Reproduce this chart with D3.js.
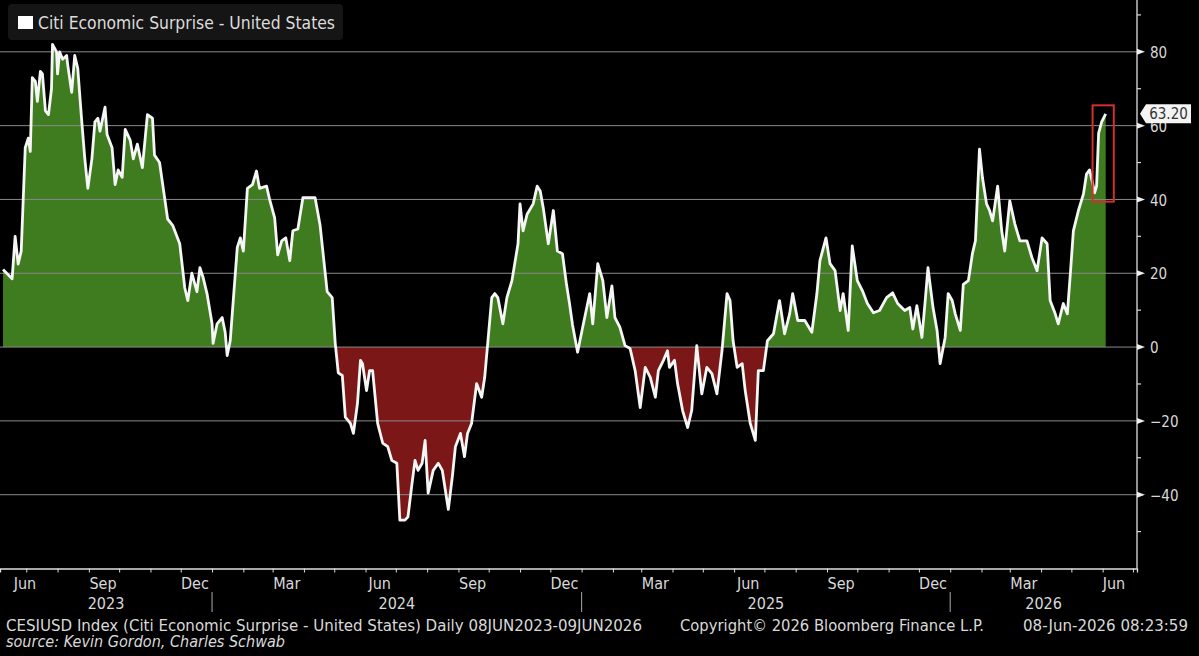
<!DOCTYPE html>
<html><head><meta charset="utf-8">
<script src="https://cdn.jsdelivr.net/npm/d3@7"></script>
<style>html,body{margin:0;padding:0;background:#000;overflow:hidden}</style>
</head><body><svg id="c" width="1199" height="656"></svg>
<script>
// ---------- data ----------
const dates2023 = ["2023-06-08","2023-06-17","2023-06-20","2023-06-23","2023-06-26","2023-06-28","2023-06-30","2023-07-03","2023-07-05","2023-07-07","2023-07-10","2023-07-12","2023-07-15","2023-07-17","2023-07-20","2023-07-23","2023-07-26","2023-07-27","2023-07-31","2023-08-01","2023-08-03","2023-08-06","2023-08-10","2023-08-11","2023-08-15","2023-08-18","2023-08-21","2023-08-25","2023-08-28","2023-08-31","2023-09-04","2023-09-07","2023-09-10","2023-09-12","2023-09-17","2023-09-19","2023-09-24","2023-09-27","2023-09-30","2023-10-04","2023-10-07","2023-10-12","2023-10-15","2023-10-19","2023-10-24","2023-10-29","2023-11-03","2023-11-05","2023-11-10","2023-11-15","2023-11-18","2023-11-23","2023-11-30","2023-12-05","2023-12-08","2023-12-12","2023-12-17","2023-12-20","2023-12-23","2023-12-27"];
const values2023 = [21,18.5,30,22.5,26,40,54,56.6,53,73,72,66.6,74.7,74,64,63,70,82,80,74,80,78,79,76.6,69,79,75.5,61,51,43,51,61,62,58.5,65,57.6,54,44,48,46,59,56,51,55,48.6,63,62,52,50,40.5,34.7,33,28,16,12.6,20,15,21.5,19,14.5];

const dates2024 = ["2024-01-01","2024-01-02","2024-01-06","2024-01-11","2024-01-14","2024-01-16","2024-01-19","2024-01-21","2024-01-26","2024-01-29","2024-02-01","2024-02-05","2024-02-10","2024-02-14","2024-02-17","2024-02-24","2024-02-27","2024-03-03","2024-03-06","2024-03-10","2024-03-14","2024-03-18","2024-03-21","2024-03-26","2024-03-31","2024-04-07","2024-04-12","2024-04-17","2024-04-24","2024-04-29","2024-05-02","2024-05-05","2024-05-09","2024-05-12","2024-05-17","2024-05-20","2024-05-24","2024-05-27","2024-05-29","2024-06-02","2024-06-05","2024-06-08","2024-06-13","2024-06-18","2024-06-23","2024-06-27","2024-07-02","2024-07-05","2024-07-10","2024-07-13","2024-07-17","2024-07-20","2024-07-23","2024-07-27","2024-07-30","2024-08-02","2024-08-07","2024-08-12","2024-08-16","2024-08-22","2024-08-26","2024-08-29","2024-09-03","2024-09-07","2024-09-10","2024-09-14","2024-09-19","2024-09-24","2024-09-27","2024-09-30","2024-10-04","2024-10-07","2024-10-10","2024-10-15","2024-10-19","2024-10-24","2024-10-30","2024-11-01","2024-11-04","2024-11-08","2024-11-14","2024-11-18","2024-11-21","2024-11-24","2024-11-29","2024-12-04","2024-12-08","2024-12-13","2024-12-17","2024-12-20","2024-12-23","2024-12-28"];
const values2024 = [6.3,1,6.3,8,4,-2.3,1.7,9,27,29.6,26,43,44,47.7,43,43.6,40,35,25,28.8,29.6,23.4,31.5,32,40.5,40.5,40.5,33,15,13.4,1,-7,-7.7,-19,-20.7,-23.4,-15.3,-3.6,-4.5,-11.8,-6.4,-6.4,-20.7,-26,-27,-30.7,-31.5,-46.9,-46.9,-46,-37,-30.7,-33.4,-31.5,-25.3,-39.6,-33.4,-31.5,-33.4,-44,-35,-27,-23.4,-29.7,-23.4,-20.7,-9.9,-13.6,-8.2,1,13.4,14.5,13.4,6.3,13.4,18,28,38.8,31.5,36,38.8,43.6,42.3,37.7,28,37,26,25.3,17,11.8,6,-1.4];

const dates2025 = ["2025-01-02","2025-01-09","2025-01-12","2025-01-17","2025-01-22","2025-01-26","2025-01-31","2025-02-03","2025-02-08","2025-02-13","2025-02-18","2025-02-23","2025-02-28","2025-03-05","2025-03-10","2025-03-15","2025-03-18","2025-03-23","2025-03-27","2025-03-29","2025-04-03","2025-04-06","2025-04-11","2025-04-16","2025-04-20","2025-04-25","2025-04-30","2025-05-05","2025-05-10","2025-05-15","2025-05-20","2025-05-25","2025-05-28","2025-05-31","2025-06-04","2025-06-09","2025-06-12","2025-06-17","2025-06-22","2025-06-25","2025-06-30","2025-07-04","2025-07-10","2025-07-16","2025-07-21","2025-07-26","2025-07-29","2025-08-03","2025-08-10","2025-08-17","2025-08-22","2025-08-25","2025-08-31","2025-09-04","2025-09-09","2025-09-14","2025-09-17","2025-09-22","2025-09-26","2025-10-01","2025-10-06","2025-10-11","2025-10-17","2025-10-23","2025-10-30","2025-11-05","2025-11-10","2025-11-17","2025-11-22","2025-11-25","2025-11-29","2025-12-04","2025-12-07","2025-12-10","2025-12-15","2025-12-19","2025-12-22","2025-12-27","2025-12-30"];
const values2025 = [5.3,14.5,6.3,22.6,18,8,16.6,8,5.3,0.4,-0.4,-6.4,-16.4,-5.5,-8.2,-13.6,-6.4,-3.6,-1,-5.5,-3.6,-9.9,-17.2,-21.8,-17.2,0.4,-12.7,-5.5,-7.2,-12.7,-1,14.5,12.6,1.7,-5.5,-4.5,-11.8,-20.7,-25.3,-6.4,-6.4,1.7,3.6,12.6,3.6,9,14.5,7.2,7.2,4,14.5,23.4,29.6,22.6,20.7,9.9,14.5,4.5,27.4,18,15.3,11.8,9.3,9.9,13.4,14.7,11.8,9.9,10.7,4.9,11.2,2.6,11.8,21.5,10.7,4.5,-4.5,2.6,14.5];

const dates2026 = ["2026-01-03","2026-01-06","2026-01-11","2026-01-14","2026-01-19","2026-01-23","2026-01-26","2026-01-30","2026-02-02","2026-02-06","2026-02-09","2026-02-12","2026-02-17","2026-02-21","2026-02-24","2026-03-01","2026-03-06","2026-03-11","2026-03-18","2026-03-23","2026-03-28","2026-04-02","2026-04-07","2026-04-10","2026-04-15","2026-04-18","2026-04-23","2026-04-27","2026-04-30","2026-05-03","2026-05-08","2026-05-13","2026-05-16","2026-05-19","2026-05-22","2026-05-24","2026-05-26","2026-05-28","2026-05-31","2026-06-04"];
const values2026 = [12.6,9,4.5,17,18,25.3,28.8,53.6,45.8,38.8,37,34.2,43.6,31.5,26,39.6,33.4,28.8,28.8,24.2,20.7,29.6,28,12.6,9,6.3,11.8,9,19.9,31.5,37,41.5,46.9,48,44.5,41.8,43.6,58,61,63.2];

const yMajorTicks = [-40,-20,0,20,40,60,80];
const yMinorTicks = [-50,-30,-10,10,30,50,70,90];
const monthNames = ["Jan","Feb","Mar","Apr","May","Jun","Jul","Aug","Sep","Oct","Nov","Dec"];
const labelMonths = [2,5,8,11];
const yearLabels = [2023,2024,2025,2026];
const legendLabel = "Citi Economic Surprise - United States";
const lastValueLabel = "63.20";
const footerLeft = "CESIUSD Index (Citi Economic Surprise - United States) Daily 08JUN2023-09JUN2026";
const footerSource = "source: Kevin Gordon, Charles Schwab";
const footerCopyright = "Copyright\u00A9 2026 Bloomberg Finance L.P.";
const footerStamp = "08-Jun-2026 08:23:59";
const highlightRange = {from:"2026-05-22", to:"2026-06-12", low:39.4, high:65.5};

// ---------- setup ----------
const parse = d3.timeParse("%Y-%m-%d");
const toSeries = (ds, vs) => ds.map((d,i)=>({date:parse(d), value:vs[i]}));
const data = [].concat(toSeries(dates2023,values2023), toSeries(dates2024,values2024),
                       toSeries(dates2025,values2025), toSeries(dates2026,values2026));

const FONT = "'DejaVu Sans Condensed','DejaVu Sans',sans-serif";
const TXT = "#d9d9d9";
const svg = d3.select("#c");
svg.append("rect").attr("width",1199).attr("height",656).attr("fill","#000");

const plotRight = 1137, plotBottom = 568.5;
const xStart = new Date(2023,5,5), xEnd = new Date(2026,6,5);
const x = d3.scaleTime().domain([xStart, xEnd]).range([0, plotRight]);
const y = d3.scaleLinear().domain([-60, 94.04]).range([plotBottom, 0]);

const defs = svg.append("defs");
defs.append("clipPath").attr("id","above").append("rect")
  .attr("x",0).attr("y",0).attr("width",plotRight).attr("height",y(0));
defs.append("clipPath").attr("id","below").append("rect")
  .attr("x",0).attr("y",y(0)).attr("width",plotRight).attr("height",plotBottom-y(0));

// fills
const area = d3.area().x(d=>x(d.date)).y0(y(0)).y1(d=>y(d.value));
svg.append("path").datum(data).attr("d",area).attr("fill","#3f7c1f").attr("clip-path","url(#above)");
svg.append("path").datum(data).attr("d",area).attr("fill","#7b1717").attr("clip-path","url(#below)");

// gridlines
svg.append("g").selectAll("line").data(yMajorTicks).join("line")
  .attr("x1",0).attr("x2",plotRight).attr("y1",d=>y(d)).attr("y2",d=>y(d))
  .attr("stroke","#8a8a8a").attr("stroke-width",1);

// line
const line = d3.line().x(d=>x(d.date)).y(d=>y(d.value));
svg.append("path").datum(data).attr("d",line).attr("fill","none")
  .attr("stroke","#f6f6f6").attr("stroke-width",2.8).attr("stroke-linejoin","round");

// ---------- y axis ----------
const yAxis = d3.axisRight(y).tickValues(yMajorTicks).tickSize(0).tickPadding(13);
const gy = svg.append("g").attr("transform",`translate(${plotRight},0)`).call(yAxis);
gy.select(".domain").remove();
gy.selectAll("text").attr("fill",TXT).attr("font-family",FONT).attr("font-size",15).attr("dy","0.38em");
svg.append("line").attr("x1",plotRight).attr("x2",plotRight).attr("y1",0).attr("y2",plotBottom)
  .attr("stroke","#e0e0e0").attr("stroke-width",1.3);
svg.append("g").selectAll("path").data(yMajorTicks).join("path")
  .attr("d",d=>`M${plotRight},${y(d)-3}L${plotRight+8},${y(d)}L${plotRight},${y(d)+3}Z`).attr("fill","#eee");
svg.append("g").selectAll("line").data(yMinorTicks).join("line")
  .attr("x1",plotRight).attr("x2",plotRight+4).attr("y1",d=>y(d)).attr("y2",d=>y(d))
  .attr("stroke","#ddd").attr("stroke-width",1.2);

// ---------- x axis ----------
const xAxis = d3.axisBottom(x).ticks(d3.timeMonth.every(1)).tickSize(4).tickFormat("");
const gx = svg.append("g").attr("transform",`translate(0,${plotBottom})`).call(xAxis);
gx.select(".domain").attr("stroke","#e0e0e0").attr("stroke-width",1.3);
gx.selectAll(".tick line").attr("stroke","#ddd");

const months = d3.timeMonth.range(d3.timeMonth.floor(xStart), xEnd).filter(m=>labelMonths.includes(m.getMonth()));
svg.append("g").selectAll("text").data(months).join("text")
  .attr("x",m=>Math.min(Math.max(x(new Date(m.getFullYear(),m.getMonth(),15)),25),plotRight-23))
  .attr("y",589).attr("text-anchor","middle").attr("fill",TXT)
  .attr("font-family",FONT).attr("font-size",16).text(m=>monthNames[m.getMonth()]);

svg.append("g").selectAll("text").data(yearLabels).join("text")
  .attr("x",yr=>{const a=Math.max(x(new Date(yr,0,1)),0), b=Math.min(x(new Date(yr+1,0,1)),plotRight); return (a+b)/2;})
  .attr("y",609).attr("text-anchor","middle").attr("fill",TXT)
  .attr("font-family",FONT).attr("font-size",16).text(d=>d);

svg.append("g").selectAll("line").data(yearLabels.slice(1)).join("line")
  .attr("x1",yr=>x(new Date(yr,0,1))).attr("x2",yr=>x(new Date(yr,0,1)))
  .attr("y1",592).attr("y2",612).attr("stroke","#aaa").attr("stroke-width",1);

// ---------- legend ----------
svg.append("rect").attr("x",8).attr("y",4).attr("width",335).attr("height",36).attr("rx",4).attr("fill","#151515");
svg.append("rect").attr("x",18).attr("y",16).attr("width",15).attr("height",13).attr("fill","#fff");
svg.append("text").attr("x",38).attr("y",29).attr("fill","#dcdcdc").attr("font-family",FONT)
  .attr("font-size",17).attr("textLength",297).attr("lengthAdjust","spacingAndGlyphs").text(legendLabel);

// ---------- highlight box & last value ----------
const hx0 = x(parse(highlightRange.from)), hx1 = x(parse(highlightRange.to));
svg.append("rect").attr("x",hx0).attr("y",y(highlightRange.high))
  .attr("width",hx1-hx0).attr("height",y(highlightRange.low)-y(highlightRange.high))
  .attr("fill","none").attr("stroke","#d0302f").attr("stroke-width",2);

const last = data[data.length-1];
const ly = y(last.value);
svg.append("path").attr("d",`M${plotRight+3},${ly} L${plotRight+9},${ly-9.5} L1191,${ly-9.5} L1191,${ly+9.5} L${plotRight+9},${ly+9.5} Z`)
  .attr("fill","#f4f4f4");
svg.append("text").attr("x",1168.5).attr("y",ly).attr("dy","0.36em").attr("text-anchor","middle")
  .attr("fill","#333").attr("font-family",FONT).attr("font-size",15).text(lastValueLabel);

// ---------- footer ----------
const foot = (t,xx,yy,len,italic)=>svg.append("text").attr("x",xx).attr("y",yy).attr("fill",TXT)
  .attr("font-family",FONT).attr("font-size",15).attr("font-style",italic?"italic":"normal")
  .attr("textLength",len).attr("lengthAdjust","spacingAndGlyphs").text(t);
foot(footerLeft,6,630.5,636,false);
foot(footerCopyright,680,630.5,304,false);
foot(footerStamp,1023,630.5,165,false);
foot(footerSource,6,646.5,279,true);
</script></body></html>
